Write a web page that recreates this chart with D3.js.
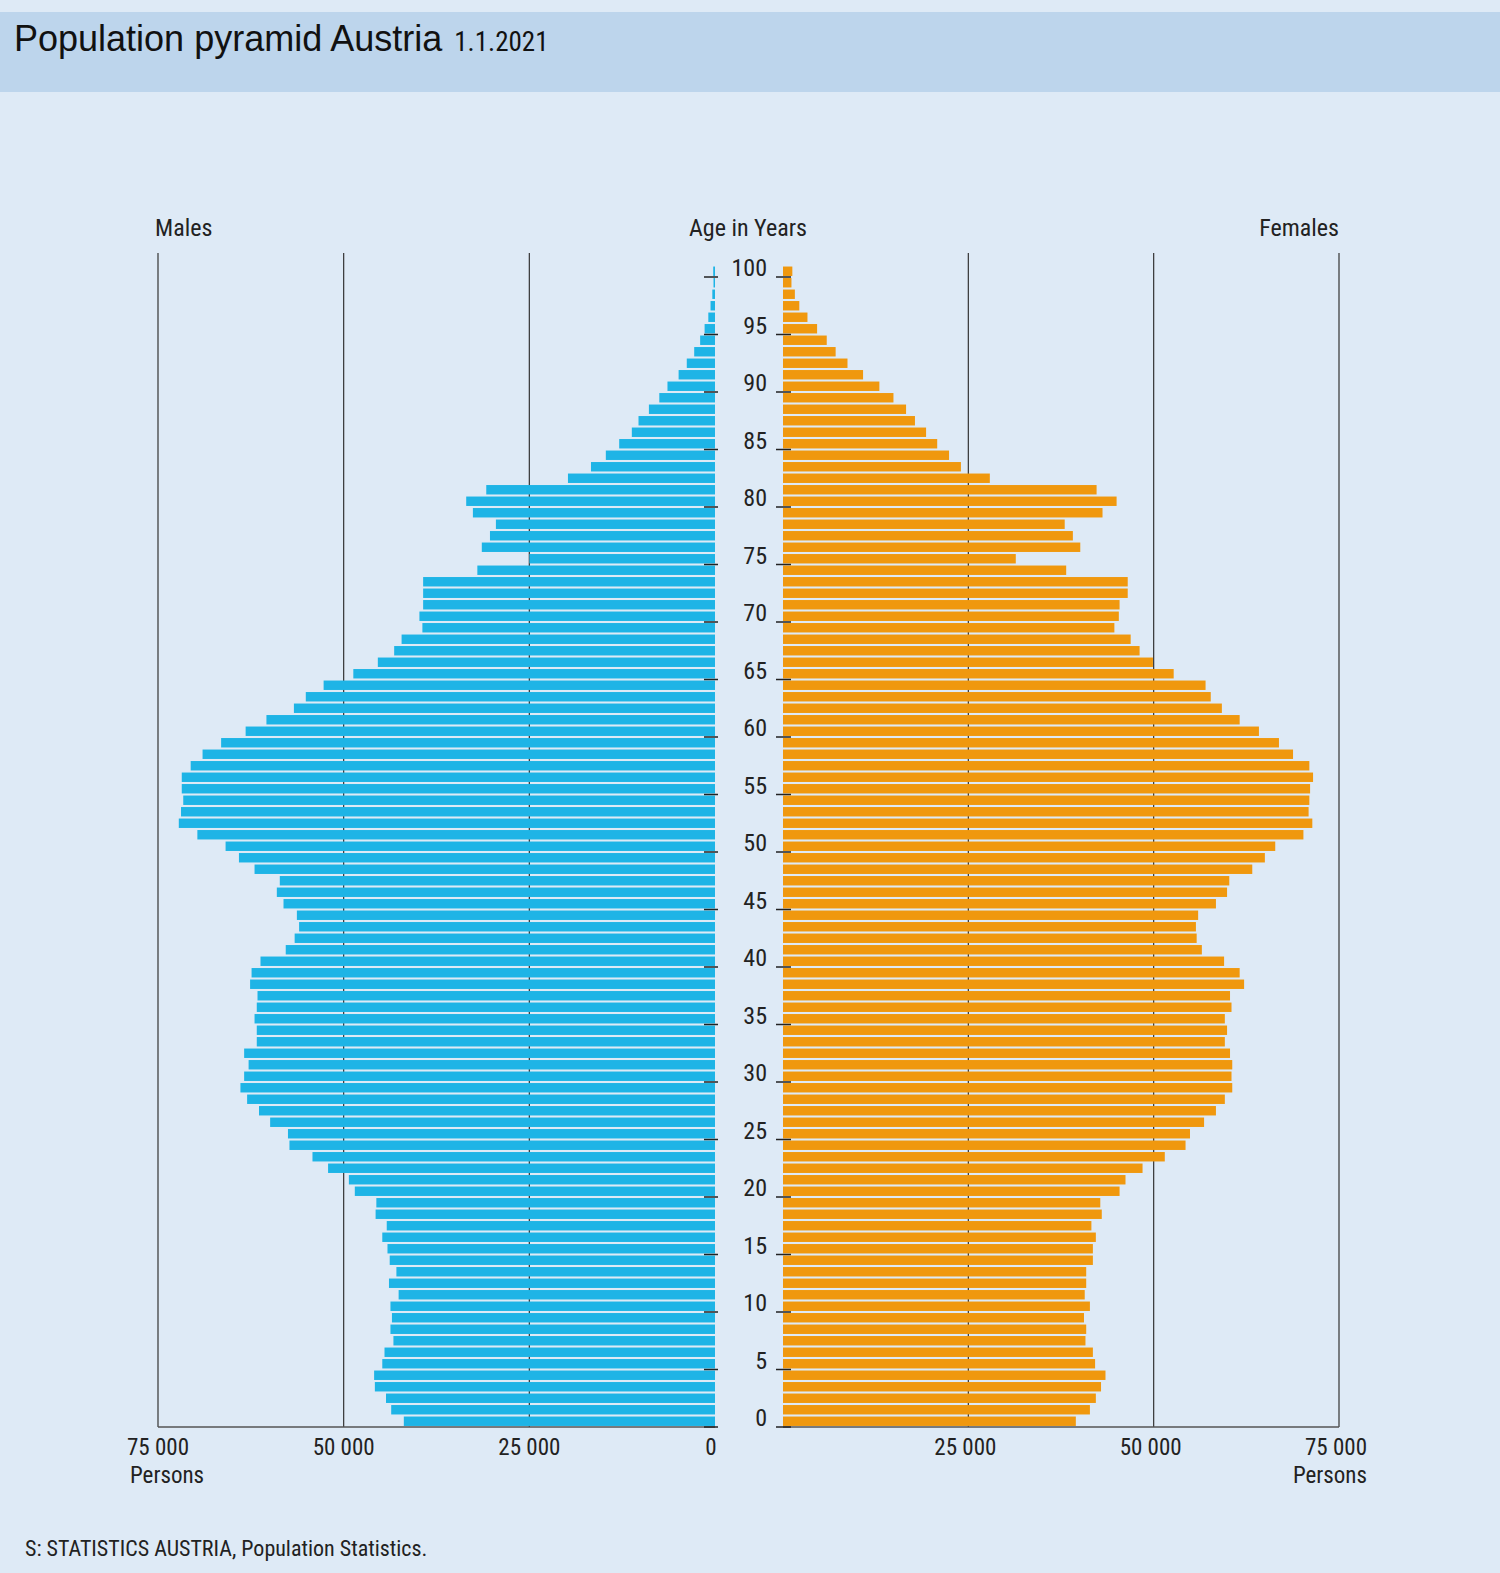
<!DOCTYPE html>
<html><head><meta charset="utf-8">
<script src="https://cdn.jsdelivr.net/npm/d3@7"></script>
<style>body{margin:0;background:#deeaf6}svg{display:block}</style>
</head><body>
<script>
const ages = d3.range(0, 101);
// thousands of persons, index = age 0..100
const males = [41.9,43.6,44.3,45.8,45.9,44.8,44.5,43.3,43.7,43.5,43.7,42.6,43.9,42.9,43.8,44.1,44.8,44.2,45.7,45.6,
48.5,49.3,52.1,54.2,57.3,57.5,59.9,61.4,63.0,63.9,63.4,62.8,63.4,61.7,61.7,62.0,61.7,61.6,62.6,62.4,
61.2,57.8,56.6,56.0,56.3,58.1,59.0,58.6,62.0,64.1,65.9,69.7,72.2,71.9,71.6,71.8,71.8,70.6,69.0,66.5,
63.2,60.4,56.7,55.1,52.7,48.7,45.4,43.2,42.2,39.4,39.8,39.3,39.3,39.3,32.0,25.0,31.4,30.3,29.5,32.6,
33.5,30.8,19.8,16.7,14.7,12.9,11.2,10.3,8.9,7.5,6.4,4.9,3.8,2.8,2.0,1.4,0.9,0.6,0.36,0.2,0.24];
const females = [39.5,41.4,42.2,42.9,43.5,42.1,41.8,40.8,40.9,40.6,41.4,40.7,40.9,40.9,41.8,41.8,42.2,41.6,43.0,42.8,
45.4,46.2,48.5,51.5,54.3,54.9,56.8,58.4,59.6,60.6,60.5,60.6,60.3,59.6,59.9,59.6,60.5,60.3,62.2,61.6,
59.5,56.5,55.8,55.7,56.0,58.4,59.9,60.2,63.3,65.0,66.4,70.2,71.4,70.9,71.0,71.1,71.5,71.0,68.8,66.9,
64.2,61.6,59.2,57.7,57.0,52.7,49.9,48.1,46.9,44.7,45.3,45.4,46.5,46.5,38.2,31.4,40.1,39.1,38.0,43.1,
45.0,42.3,27.9,24.0,22.4,20.8,19.3,17.8,16.6,14.9,13.0,10.8,8.7,7.1,5.9,4.6,3.3,2.2,1.6,1.14,1.26];
const xTicks = [0, 25000, 50000, 75000];
const xTickLabels = ["0", "25 000", "50 000", "75 000"];
const ageTicks = d3.range(0, 101, 5);

const W = 1500, H = 1573;
const svg = d3.select("body").append("svg").attr("width", W).attr("height", H);
const font = "'Liberation Sans Narrow','Roboto Condensed','Liberation Sans',sans-serif";

svg.append("rect").attr("width", W).attr("height", H).attr("fill", "#deeaf6");
svg.append("rect").attr("x", 0).attr("y", 12).attr("width", W).attr("height", 80).attr("fill", "#bdd5ec");
const title = svg.append("text").attr("x", 14).attr("y", 51).attr("font-family", "'Liberation Sans',Arial,sans-serif").attr("fill", "#111");
title.append("tspan").attr("font-size", 36).attr("font-weight", "500").text("Population pyramid Austria");
title.append("tspan").attr("font-size", 27).attr("font-family", font).attr("dx", 12).text("1.1.2021");

const xL = d3.scaleLinear().domain([0, 75000]).range([715, 158]);
const xR = d3.scaleLinear().domain([0, 75000]).range([783, 1339]);
const y = d3.scaleLinear().domain([0, 101]).range([1427, 265.5]);
const step = y(0) - y(1), bh = step * 0.82;
const gridTop = 253, gridBottom = 1427;

[xL, xR].forEach(s => {
  svg.append("g").selectAll("line").data(xTicks.slice(1)).join("line")
    .attr("x1", d => s(d)).attr("x2", d => s(d)).attr("y1", gridTop).attr("y2", gridBottom)
    .attr("stroke", "#333").attr("stroke-width", 1.2);
});

svg.append("g").selectAll("rect").data(ages).join("rect")
  .attr("x", a => xL(males[a] * 1000)).attr("width", a => xL(0) - xL(males[a] * 1000))
  .attr("y", a => y(a + 1) + (step - bh) / 2).attr("height", bh).attr("fill", "#1eb4e6");
svg.append("g").selectAll("rect").data(ages).join("rect")
  .attr("x", xR(0)).attr("width", a => xR(females[a] * 1000) - xR(0))
  .attr("y", a => y(a + 1) + (step - bh) / 2).attr("height", bh).attr("fill", "#f0980e");

svg.append("line").attr("x1", 158).attr("x2", 715).attr("y1", gridBottom).attr("y2", gridBottom).attr("stroke", "#555").attr("stroke-width", 1.5);
svg.append("line").attr("x1", 783).attr("x2", 1339).attr("y1", gridBottom).attr("y2", gridBottom).attr("stroke", "#555").attr("stroke-width", 1.5);

const ag = svg.append("g");
ag.selectAll("line.l").data(ageTicks).join("line").attr("class", "l")
  .attr("x1", 704).attr("x2", 718).attr("y1", d => y(d)).attr("y2", d => y(d)).attr("stroke", "#222").attr("stroke-width", 1.5);
ag.selectAll("line.r").data(ageTicks).join("line").attr("class", "r")
  .attr("x1", 776).attr("x2", 791).attr("y1", d => y(d)).attr("y2", d => y(d)).attr("stroke", "#222").attr("stroke-width", 1.5);
ag.selectAll("text").data(ageTicks).join("text")
  .attr("x", 767).attr("y", d => y(d) - 1).attr("text-anchor", "end")
  .attr("font-family", font).attr("font-size", 24).attr("fill", "#222").text(d => d);

const tl = svg.append("g").attr("font-family", font).attr("font-size", 23).attr("fill", "#222");
tl.selectAll("text.l").data(xTicks).join("text").attr("class", "l")
  .attr("x", d => d === 0 ? 711 : xL(d)).attr("y", 1455).attr("text-anchor", "middle").text((d, i) => xTickLabels[i]);
tl.selectAll("text.r").data(xTicks.slice(1)).join("text").attr("class", "r")
  .attr("x", d => xR(d) - 3).attr("y", 1455).attr("text-anchor", "middle").text((d, i) => xTickLabels[i + 1]);
tl.append("text").attr("x", 130).attr("y", 1483).text("Persons");
tl.append("text").attr("x", 1367).attr("y", 1483).attr("text-anchor", "end").text("Persons");

const hd = svg.append("g").attr("font-family", font).attr("font-size", 24).attr("fill", "#222");
hd.append("text").attr("x", 155).attr("y", 236).text("Males");
hd.append("text").attr("x", 748).attr("y", 236).attr("text-anchor", "middle").text("Age in Years");
hd.append("text").attr("x", 1339).attr("y", 236).attr("text-anchor", "end").text("Females");

svg.append("text").attr("x", 25).attr("y", 1556).attr("font-family", font).attr("font-size", 22).attr("fill", "#222")
  .text("S: STATISTICS AUSTRIA, Population Statistics.");
</script>
</body></html>
